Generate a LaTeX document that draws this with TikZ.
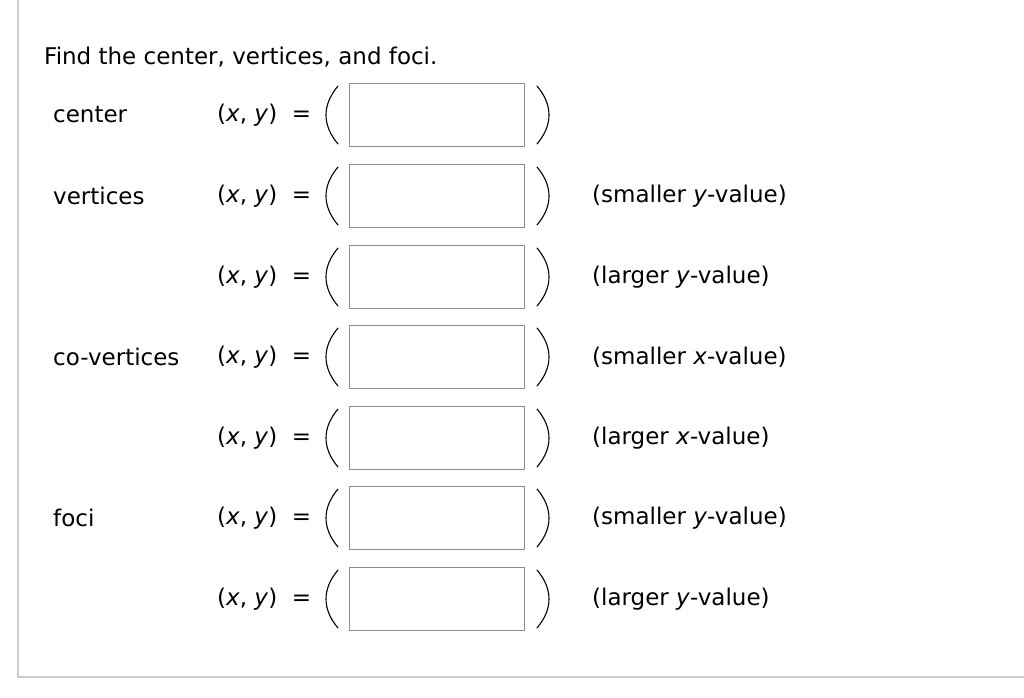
\documentclass[tikz,border=0pt]{standalone}
\usepackage{fontspec}
\setmainfont{DejaVu Sans}
\usetikzlibrary{positioning}
\definecolor{framegray}{rgb}{0.8,0.8,0.8}
\definecolor{boxgray}{rgb}{0.55,0.55,0.55}
\tikzset{
  txt/.style={anchor=west,inner sep=0pt,font=\fontsize{23}{27}\selectfont},
  ansbox/.style={draw=boxgray,line width=1pt,minimum width=175pt,minimum height=63pt,inner sep=0pt},
  paren/.style={line width=1.1pt}
}
\begin{document}
\begin{tikzpicture}[x=1pt,y=-1pt,line cap=round]
	\useasboundingbox (0,0) rectangle (1024,697);
	\draw[framegray,line width=1.2pt] (18,-5) -- (18,677) -- (1030,677);
	\node[txt] (title) at (44,57) {Find the center, vertices, and foci.};
	\foreach \y/\lab/\note [count=\i] in {115/center/,196/vertices/(smaller \textit{y}-value),277//(larger \textit{y}-value),357/co-vertices/(smaller \textit{x}-value),438//(larger \textit{x}-value),518/foci/(smaller \textit{y}-value),599//(larger \textit{y}-value)}
	{
	\node[txt] (lab\i) at (53,\y) {\lab};
	\node[txt] (eq\i) at (217,\y) {(\textit{x}, \textit{y})\ \ =};
	\node[ansbox] (box\i) at (436.5,\y) {};
	\draw[paren] (338,\y-29) .. controls (322,\y-10) and (322,\y+10) .. (338,\y+29);
	\draw[paren] (537,\y-29) .. controls (553,\y-10) and (553,\y+10) .. (537,\y+29);
	\node[txt] (note\i) at (592,\y) {\note};
	}
\end{tikzpicture}
\end{document}
